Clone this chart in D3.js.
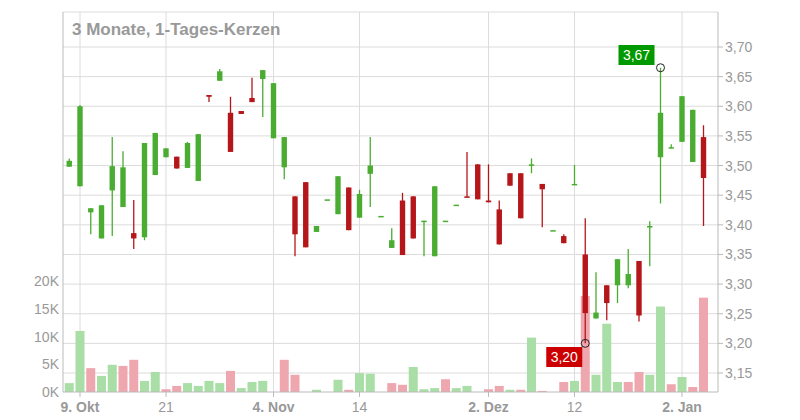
<!DOCTYPE html>
<html><head><meta charset="utf-8">
<script src="https://cdn.jsdelivr.net/npm/d3@7"></script>
<style>body{margin:0;background:#fff}svg{font-family:"Liberation Sans",Arial,sans-serif}</style>
</head><body><svg id="c" width="800" height="420"></svg>
<script>
const idx = d3.range(-1, 59);
const open  = [3.498,3.465,3.421,3.377,3.458,3.430,3.386,3.379,3.484,3.514,3.515,3.496,3.474,3.619,3.643,3.589,3.592,3.614,3.646,3.546,3.497,3.448,3.472,3.388,3.443,3.418,3.463,3.412,3.486,3.415,3.361,3.441,3.448,3.407,3.347,3.407,3.434,3.448,3.502,3.441,3.426,3.487,3.487,3.502,3.469,3.391,3.381,3.469,3.350,3.242,3.298,3.298,3.298,3.339,3.398,3.514,3.529,3.540,3.506,3.548];
const close = [3.508,3.600,3.428,3.433,3.499,3.497,3.377,3.538,3.555,3.529,3.495,3.538,3.553,3.616,3.659,3.523,3.587,3.607,3.661,3.639,3.548,3.384,3.362,3.398,3.443,3.482,3.391,3.452,3.500,3.415,3.374,3.349,3.377,3.407,3.465,3.407,3.434,3.447,3.443,3.438,3.367,3.466,3.411,3.502,3.460,3.391,3.369,3.469,3.251,3.252,3.268,3.342,3.317,3.247,3.398,3.589,3.531,3.617,3.594,3.479];
const high  = [3.512,3.602,3.428,3.433,3.548,3.524,3.442,3.538,3.555,3.529,3.515,3.540,3.553,3.619,3.663,3.616,3.592,3.648,3.661,3.639,3.548,3.448,3.472,3.398,3.443,3.482,3.463,3.459,3.548,3.415,3.394,3.454,3.448,3.407,3.465,3.407,3.434,3.523,3.502,3.502,3.441,3.487,3.487,3.512,3.469,3.391,3.384,3.501,3.411,3.320,3.298,3.342,3.359,3.339,3.406,3.665,3.536,3.617,3.594,3.568];
const low   = [3.498,3.465,3.384,3.377,3.381,3.430,3.359,3.374,3.484,3.514,3.495,3.496,3.474,3.607,3.643,3.523,3.587,3.607,3.582,3.546,3.477,3.347,3.362,3.388,3.443,3.418,3.391,3.412,3.430,3.415,3.361,3.349,3.377,3.347,3.347,3.407,3.434,3.447,3.443,3.438,3.367,3.466,3.411,3.487,3.396,3.391,3.369,3.469,3.200,3.242,3.239,3.268,3.293,3.237,3.330,3.436,3.529,3.540,3.506,3.398];
const volume= [1.6,11.0,4.3,2.9,4.9,4.7,5.8,2.0,3.6,0.5,1.1,1.6,1.1,2.0,1.6,3.8,0.7,1.8,2.0,0,5.8,3.1,0,0.4,0,2.2,0.4,3.4,3.3,0,1.6,1.3,4.5,0.5,0.7,2.3,0.7,1.1,0,0.5,1.1,0.4,0.4,9.8,0.2,0,1.8,2.0,17.3,3.1,12.3,1.8,1.8,3.6,3.1,15.4,1.4,2.7,0.9,17.0];
const xTickIdx = [0,8,18,26,38,46,56];
const xTickLabels = ["9. Okt","21","4. Nov","14","2. Dez","12","2. Jan"];
const xTickBold = [true,false,true,false,true,false,true];
const priceTicks = [3.15,3.20,3.25,3.30,3.35,3.40,3.45,3.50,3.55,3.60,3.65,3.70];
const volTicks = [0,5,10,15,20];
const maxLabel = "3,67", minLabel = "3,20";

const svg = d3.select("#c");
const L=63, R=718, T=12, B=392;
const x = d3.scaleLinear().domain([-1,58]).range([69.25,703.5]);
const y = d3.scaleLinear().domain([3.15,3.70]).range([373,47]);
const yv = d3.scaleLinear().domain([0,20]).range([392,281]);
const grid="#dcdcdc", txt="#999";

// grid
svg.append("g").selectAll("line").data(priceTicks).join("line")
  .attr("x1",L).attr("x2",R).attr("y1",d=>y(d)).attr("y2",d=>y(d)).attr("stroke",grid);
svg.append("line").attr("x1",L).attr("x2",R).attr("y1",T).attr("y2",T).attr("stroke",grid);
svg.append("g").selectAll("line").data(xTickIdx).join("line")
  .attr("x1",d=>x(d)).attr("x2",d=>x(d)).attr("y1",T).attr("y2",B).attr("stroke",grid);

// volume
const vData = idx.map((d,i)=>({i:d,v:volume[i],up:i===0?close[i]>=open[i]:close[i]>=close[i-1]}));
svg.append("g").selectAll("rect").data(vData.filter(d=>d.v>0)).join("rect")
  .attr("x",d=>x(d.i)-4.5).attr("width",9).attr("y",d=>yv(d.v)).attr("height",d=>yv(0)-yv(d.v))
  .attr("fill",d=>d.up?"#a9dea6":"#eea6af");

// candles
const cData = idx.map((d,i)=>({i:d,o:open[i],c:close[i],h:high[i],l:low[i]}));
const g = svg.append("g");
const col = d=>d.c>=d.o?"#4aad32":"#b5161a";
g.selectAll("line").data(cData).join("line")
  .attr("x1",d=>x(d.i)).attr("x2",d=>x(d.i)).attr("y1",d=>y(d.h)).attr("y2",d=>y(d.l))
  .attr("stroke",col).attr("stroke-width",1.3);
g.selectAll("rect").data(cData).join("rect")
  .attr("x",d=>x(d.i)-2.7).attr("width",5.4)
  .attr("y",d=>y(Math.max(d.o,d.c))).attr("height",d=>Math.max(1.5,Math.abs(y(d.o)-y(d.c))))
  .attr("fill",col);

// axes frame
svg.append("line").attr("x1",L).attr("x2",L).attr("y1",T).attr("y2",B).attr("stroke","#bbb");
svg.append("line").attr("x1",R).attr("x2",R).attr("y1",T).attr("y2",B).attr("stroke","#bbb");
svg.append("line").attr("x1",L).attr("x2",R).attr("y1",B).attr("y2",B).attr("stroke","#bbb");
svg.append("g").selectAll("line").data(priceTicks).join("line")
  .attr("x1",R).attr("x2",R+5).attr("y1",d=>y(d)).attr("y2",d=>y(d)).attr("stroke","#bbb");
svg.append("g").selectAll("line").data(xTickIdx).join("line")
  .attr("x1",d=>x(d)).attr("x2",d=>x(d)).attr("y1",B).attr("y2",B+5).attr("stroke","#bbb");

svg.append("g").selectAll("text").data(priceTicks).join("text")
  .attr("x",725).attr("y",d=>y(d)+5).attr("fill",txt).attr("font-size",14)
  .text(d=>d.toFixed(2).replace(".",","));
svg.append("g").selectAll("text").data(volTicks).join("text")
  .attr("x",59).attr("y",d=>yv(d)+5).attr("text-anchor","end").attr("fill",txt).attr("font-size",14)
  .text(d=>d+"K");
svg.append("g").selectAll("text").data(xTickIdx).join("text")
  .attr("x",d=>x(d)).attr("y",412).attr("text-anchor","middle").attr("fill",txt).attr("font-size",14)
  .attr("font-weight",(d,i)=>xTickBold[i]?"bold":"normal").text((d,i)=>xTickLabels[i]);

svg.append("text").attr("x",72).attr("y",35).attr("fill","#999").attr("font-size",17).attr("font-weight","bold")
  .text("3 Monate, 1-Tages-Kerzen");

// hi/lo markers
function marker(i,val,label,fill,bx,by){
  svg.append("circle").attr("cx",x(i)).attr("cy",y(val)).attr("r",4).attr("fill","none").attr("stroke","#222");
  svg.append("rect").attr("x",bx).attr("y",by).attr("width",36).attr("height",20).attr("fill",fill);
  svg.append("text").attr("x",bx+18).attr("y",by+15).attr("text-anchor","middle").attr("fill","#fff")
    .attr("font-size",14).text(label);
}
marker(54,3.665,maxLabel,"#009a00",x(54)-42,45);
marker(47,3.200,minLabel,"#cc0000",x(47)-39,347);
</script></body></html>
